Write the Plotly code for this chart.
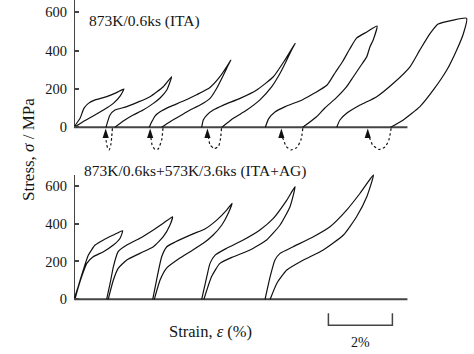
import plotly.graph_objects as go

# ---------------- data (strain in %, stress in MPa) ----------------
# Top panel: 873K/0.6ks (ITA) — each loop: loading branch then unloading branch
top_loop1_strain = [0, 0.19, 0.31, 0.45, 0.66, 1.02, 1.33, 1.56, 1.44, 1.23, 0.92, 0.60, 0.29, 0]
top_loop1_stress = [0, 47, 99, 125, 143, 160, 181, 200, 163, 125, 90, 59, 30, 0]

top_loop2_strain = [1.0, 1.125, 1.28, 1.65, 2.375, 2.79, 3.05, 2.90, 2.69, 2.48, 2.16, 1.85, 1.59, 1.28]
top_loop2_stress = [0, 64, 90, 108, 160, 212, 264, 195, 153, 125, 90, 64, 38, 0]

top_loop3_strain = [2.35, 2.43, 2.53, 2.69, 3.0, 3.42, 3.83, 4.25, 4.56, 4.77, 4.90,
                    4.82, 4.67, 4.46, 4.25, 3.94, 3.63, 3.31, 3.0, 2.74]
top_loop3_stress = [0, 29, 59, 81, 108, 137, 170, 208, 264, 316, 351,
                    325, 273, 204, 151, 116, 90, 59, 29, 0]

top_loop4_strain = [3.99, 4.04, 4.15, 4.35, 4.67, 5.19, 5.71, 6.23, 6.59, 6.91,
                    6.80, 6.65, 6.44, 6.18, 5.81, 5.40, 4.98, 4.62]
top_loop4_stress = [0, 38, 64, 90, 116, 151, 195, 264, 351, 438,
                    404, 351, 282, 212, 143, 90, 47, 0]

top_loop5_strain = [5.98, 6.08, 6.29, 6.60, 7.13, 7.53, 7.91, 8.16, 8.40, 8.62, 8.83, 9.15, 9.47,
                    9.35, 9.25, 9.15, 8.94, 8.73, 8.52, 8.21, 7.84, 7.58, 7.15]
top_loop5_stress = [0, 44, 81, 108, 143, 180, 221, 285, 345, 410, 466, 498, 529,
                    456, 421, 369, 316, 264, 212, 156, 101, 55, 0]

top_loop6_strain = [8.21, 8.31, 8.52, 8.94, 9.46, 9.98, 10.5, 10.81, 11.13, 11.38, 11.85, 12.27,
                    12.17, 11.96, 11.65, 11.23, 10.81, 10.29, 9.90]
top_loop6_stress = [0, 38, 73, 116, 160, 230, 316, 404, 490, 539, 560, 569,
                    490, 404, 299, 195, 108, 38, 0]

# shape-recovery (heating) paths, dotted
rec2_strain = [1.20, 1.18, 1.15, 1.10, 1.05, 1.01, 0.99]
rec2_stress = [-5, -49, -92, -118, -108, -77, -42]
rec3_strain = [2.78, 2.74, 2.63, 2.53, 2.44, 2.40, 2.38]
rec3_stress = [-5, -66, -113, -116, -92, -51, -42]
rec4_strain = [4.61, 4.58, 4.52, 4.39, 4.25, 4.20, 4.17]
rec4_stress = [-5, -58, -98, -111, -92, -51, -42]
rec5_strain = [7.15, 7.10, 6.97, 6.78, 6.63, 6.55, 6.48]
rec5_stress = [-5, -61, -105, -118, -100, -66, -42]
rec6_strain = [9.91, 9.84, 9.72, 9.53, 9.33, 9.23, 9.18]
rec6_stress = [-5, -66, -103, -116, -92, -53, -42]

arrow_strain = [0.99, 2.38, 4.17, 6.48, 9.18]
arrow_stress = [-6, -6, -6, -6, -6]

# Bottom panel: 873K/0.6ks+573K/3.6ks (ITA+AG)
bot_loop1_strain = [0, 0.13, 0.29, 0.45, 0.66, 0.92, 1.23, 1.52, 1.44, 1.23, 0.92, 0.60, 0.40, 0.24, 0.08, 0.03]
bot_loop1_stress = [0, 67, 155, 234, 287, 314, 340, 363, 323, 287, 252, 225, 190, 120, 32, 0]

bot_loop2_strain = [1.02, 1.13, 1.23, 1.38, 1.65, 2.06, 2.48, 2.79, 3.08, 3.0, 2.79, 2.48, 2.06, 1.65, 1.38, 1.23, 1.07]
bot_loop2_stress = [0, 85, 172, 252, 287, 323, 367, 402, 437, 393, 331, 278, 243, 208, 164, 102, 0]

bot_loop3_strain = [2.46, 2.58, 2.74, 2.90, 3.16, 3.72, 4.09, 4.46, 4.77, 4.94,
                    4.82, 4.62, 4.35, 4.04, 3.63, 3.31, 2.90, 2.69, 2.51]
bot_loop3_stress = [0, 102, 225, 278, 303, 346, 372, 419, 472, 508,
                    455, 393, 340, 296, 252, 218, 166, 102, 0]

bot_loop4_strain = [3.99, 4.15, 4.25, 4.41, 4.77, 5.29, 5.81, 6.23, 6.65, 6.91,
                    6.75, 6.44, 6.02, 5.5, 4.98, 4.56, 4.30, 4.06]
bot_loop4_stress = [0, 120, 190, 234, 270, 314, 367, 428, 525, 596,
                    490, 393, 314, 261, 225, 190, 120, 0]

bot_loop5_strain = [5.97, 6.13, 6.28, 6.44, 6.85, 7.48, 8.0, 8.52, 8.94, 9.36,
                    9.15, 8.83, 8.42, 7.79, 7.17, 6.65, 6.34, 6.13]
bot_loop5_stress = [0, 120, 208, 243, 278, 331, 384, 472, 561, 658,
                    543, 437, 340, 261, 208, 155, 85, 0]

y_tick_vals = [0, 200, 400, 600]
y_tick_text = ["0", "200", "400", "600"]

top_label = "873K/0.6ks (ITA)"
bot_label = "873K/0.6ks+573K/3.6ks (ITA+AG)"
x_title = "Strain, <i>ε</i> (%)"
y_title = "Stress, <i>σ</i> / MPa"
scale_label = "2%"
scale_bar_start = 7.95   # strain %
scale_bar_len = 2.0      # strain %
axis_end_strain = 10.42

# ---------------- figure ----------------
FONT = "Liberation Serif, Times New Roman, serif"
LC = "#111111"
AXC = "#444444"
TXT = "#151515"

fig = go.Figure()

def add_loop(xs, ys, xa, ya, dash=None, smooth=True):
    line = dict(color=LC, width=1.2, dash=dash)
    if smooth:
        line.update(shape="spline", smoothing=0.5)
    fig.add_trace(go.Scatter(x=xs, y=ys, mode="lines", xaxis=xa, yaxis=ya, line=line,
                             showlegend=False, hoverinfo="skip"))

top_loops = [(top_loop1_strain, top_loop1_stress), (top_loop2_strain, top_loop2_stress),
             (top_loop3_strain, top_loop3_stress), (top_loop4_strain, top_loop4_stress),
             (top_loop5_strain, top_loop5_stress), (top_loop6_strain, top_loop6_stress)]
recov = [(rec2_strain, rec2_stress), (rec3_strain, rec3_stress), (rec4_strain, rec4_stress),
         (rec5_strain, rec5_stress), (rec6_strain, rec6_stress)]
bot_loops = [(bot_loop1_strain, bot_loop1_stress), (bot_loop2_strain, bot_loop2_stress),
             (bot_loop3_strain, bot_loop3_stress), (bot_loop4_strain, bot_loop4_stress),
             (bot_loop5_strain, bot_loop5_stress)]

# y ranges chosen so that 200 MPa spans ~38 px
top_range = [-144.6, 664.7]
bot_range = [-289.4, 694.6]
x_range = [0, 12.5]

# axis lines (traces, so they stop where the original stops)
fig.add_trace(go.Scatter(x=[0, 0, axis_end_strain], y=[top_range[1], 0, 0], mode="lines",
                         xaxis="x", yaxis="y", line=dict(color=AXC, width=2),
                         showlegend=False, hoverinfo="skip"))
fig.add_trace(go.Scatter(x=[0, 0, axis_end_strain], y=[657, 0, 0], mode="lines",
                         xaxis="x2", yaxis="y2", line=dict(color=AXC, width=2),
                         showlegend=False, hoverinfo="skip"))

for xs, ys in top_loops:
    add_loop(xs, ys, "x", "y")
for xs, ys in recov:
    add_loop(xs, ys, "x", "y", dash="2.5px,2.5px")
fig.add_trace(go.Scatter(x=arrow_strain, y=arrow_stress, mode="markers", xaxis="x", yaxis="y",
                         marker=dict(symbol="arrow", size=10, color=LC, angle=0),
                         showlegend=False, hoverinfo="skip"))
for xs, ys in bot_loops:
    add_loop(xs, ys, "x2", "y2")

# scale bar
fig.add_trace(go.Scatter(x=[scale_bar_start, scale_bar_start, scale_bar_start + scale_bar_len,
                            scale_bar_start + scale_bar_len],
                         y=[-74, -137, -137, -74], mode="lines", xaxis="x2", yaxis="y2",
                         line=dict(color=AXC, width=1.5), showlegend=False, hoverinfo="skip"))

yax = dict(showgrid=False, zeroline=False, showline=False,
           ticks="inside", ticklen=5, tickwidth=1.5, tickcolor=AXC,
           tickvals=y_tick_vals, ticktext=y_tick_text,
           tickfont=dict(family=FONT, size=14.5, color=TXT),
           ticklabelstandoff=6)
xax = dict(range=x_range, visible=False)

H = 354.0
fig.update_layout(
    width=474, height=354,
    margin=dict(l=74, r=0, t=0, b=0),
    paper_bgcolor="white", plot_bgcolor="white",
    xaxis=dict(xax, domain=[0, 1], anchor="y"),
    yaxis=dict(yax, range=top_range, domain=[1 - 155 / H, 1], anchor="x"),
    xaxis2=dict(xax, domain=[0, 1], anchor="y2"),
    yaxis2=dict(yax, range=bot_range, domain=[0, 1 - 168 / H], anchor="x2"),
    font=dict(family=FONT, color=TXT),
    annotations=[
        dict(text=top_label, x=0.41, y=555, xref="x", yref="y", xanchor="left", yanchor="middle",
             showarrow=False, font=dict(family=FONT, size=15.5, color=TXT)),
        dict(text=bot_label, x=0.24, y=679, xref="x2", yref="y2", xanchor="left", yanchor="middle",
             showarrow=False, font=dict(family=FONT, size=15.5, color=TXT)),
        dict(text=x_title, x=4.27, y=-168, xref="x2", yref="y2", xanchor="center", yanchor="middle",
             showarrow=False, font=dict(family=FONT, size=16.5, color=TXT)),
        dict(text=scale_label, x=scale_bar_start + scale_bar_len / 2, y=-231, xref="x2", yref="y2",
             xanchor="center", yanchor="middle",
             showarrow=False, font=dict(family=FONT, size=14, color=TXT)),
        dict(text=y_title, x=(28 - 74) / 400, y=1 - 150 / H, xref="paper", yref="paper",
             xanchor="center", yanchor="middle", textangle=-90,
             showarrow=False, font=dict(family=FONT, size=17, color=TXT)),
    ],
)

fig.write_html("out.html")
